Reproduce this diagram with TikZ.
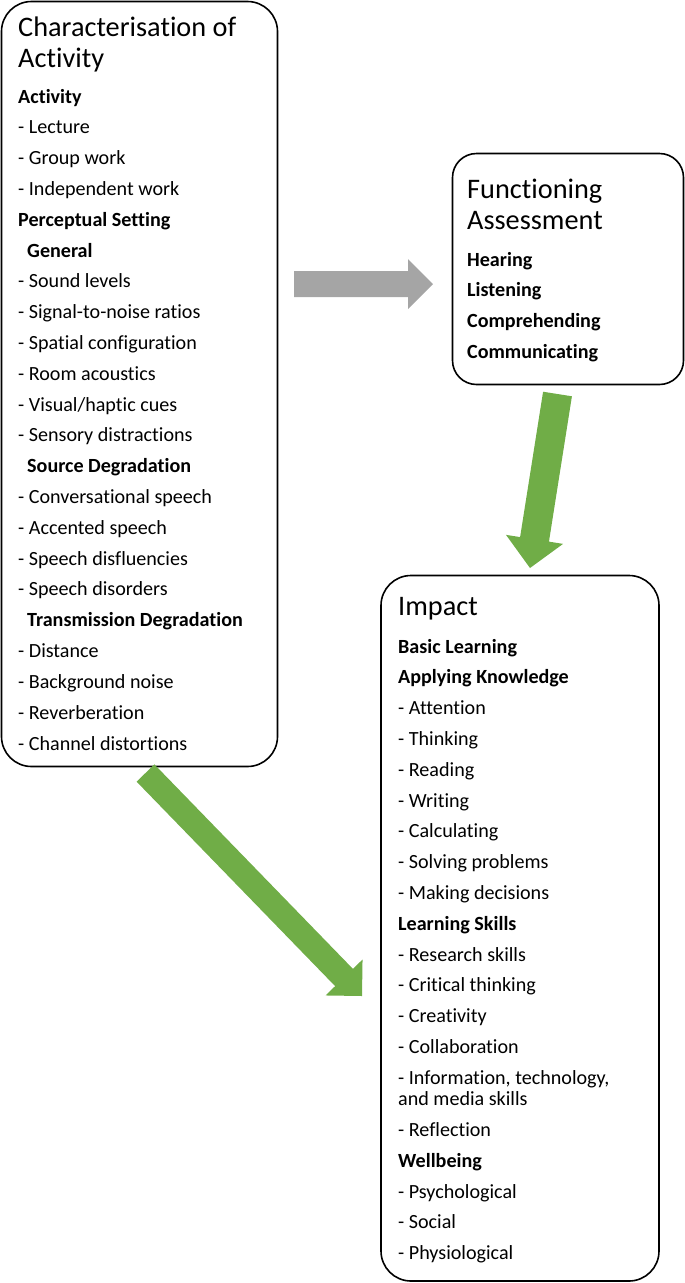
\documentclass[tikz,border=0pt]{standalone}
\usepackage{fontspec}
\setmainfont[Ligatures={NoCommon,NoContextual},RawFeature={-liga;-clig;-calt}]{Carlito}
\usetikzlibrary{calc}
\definecolor{arrgreen}{HTML}{70AD47}
\definecolor{arrgray}{HTML}{A5A5A5}
\newcommand\fatarrow[6]{% start, end, half shaft, half head, head length, colour
  \fill[#6] ($(#1)!#3!90:(#2)$) -- ($($(#2)!#5!(#1)$)!#3!-90:(#1)$)
    -- ($($(#2)!#5!(#1)$)!#4!-90:(#1)$) -- (#2)
    -- ($($(#2)!#5!(#1)$)!#4!90:(#1)$) -- ($($(#2)!#5!(#1)$)!#3!90:(#1)$)
    -- ($(#1)!#3!-90:(#2)$) -- cycle;}
\tikzset{
  box/.style={draw=black, line width=1.6pt},
  ttl/.style={anchor=base west, inner sep=0pt, font=\fontsize{28.3}{31}\selectfont},
  item/.style={anchor=base west, inner sep=0pt, font=\fontsize{20.1}{22}\selectfont},
}
\begin{document}
\begin{tikzpicture}[x=1pt,y=-1pt]
\useasboundingbox (0,0) rectangle (685,1283);
% boxes
\draw[box, rounded corners=30pt] (1.5,1.5) rectangle (277.5,766.5);
\draw[box, rounded corners=24pt] (452.5,153.5) rectangle (683.5,384.5);
\draw[box, rounded corners=30pt] (381,575.5) rectangle (659,1281);
% left box
\node[ttl] (t1a) at (18,36) {Characterisation of};
\node[ttl] (t1b) at (18,67) {Activity};
\foreach \t [count=\i from 0] in {\textbf{Activity}, - Lecture, - Group work, - Independent work,
  \textbf{Perceptual Setting}, \hspace*{9pt}\textbf{General}, - Sound levels, - Signal-to-noise ratios,
  - Spatial configuration, - Room acoustics, - Visual/haptic cues, - Sensory distractions,
  \hspace*{9pt}\textbf{Source Degradation}, - Conversational speech, - Accented speech,
  - Speech disfluencies, - Speech disorders, \hspace*{9pt}\textbf{Transmission Degradation},
  - Distance, - Background noise, - Reverberation, - Channel distortions}
  \node[item] (a\i) at (18,{103+30.81*\i}) {\t};
% functioning box
\node[ttl] (t2a) at (467,198) {Functioning};
\node[ttl] (t2b) at (467,229) {Assessment};
\foreach \t [count=\i from 0] in {Hearing, Listening, Comprehending, Communicating}
  \node[item, font=\fontsize{20.1}{22}\selectfont\bfseries] (f\i) at (467,{266+30.8*\i}) {\t};
% impact box
\node[ttl] (t3) at (398,615) {Impact};
\foreach \t [count=\i from 0] in {\textbf{Basic Learning}, \textbf{Applying Knowledge}, - Attention,
  - Thinking, - Reading, - Writing, - Calculating, - Solving problems, - Making decisions,
  \textbf{Learning Skills}, - Research skills, - Critical thinking, - Creativity, - Collaboration,
  {- Information, technology,}}
  \node[item] (b\i) at (398,{653+30.8*\i}) {\t};
\node[item] (b15) at (398,1105.5) {and media skills};
\foreach \t [count=\i from 16] in {- Reflection, \textbf{Wellbeing}, - Psychological, - Social, - Physiological}
  \node[item] (b\i) at (398,{1136.5+30.8*(\i-16)}) {\t};
% arrows
\coordinate (g1) at (294,284);
\coordinate (g2) at (433,284);
\coordinate (d1) at (557.5,394);
\coordinate (d2) at (530,568);
\coordinate (e1) at (145.5,773);
\coordinate (e2) at (362,996);
\fatarrow{g1}{g2}{13pt}{25pt}{25pt}{arrgray}
\fatarrow{d1}{d2}{14.6pt}{28.9pt}{29pt}{arrgreen}
\fatarrow{e1}{e2}{12.4pt}{25.8pt}{25.8pt}{arrgreen}
\end{tikzpicture}
\end{document}
